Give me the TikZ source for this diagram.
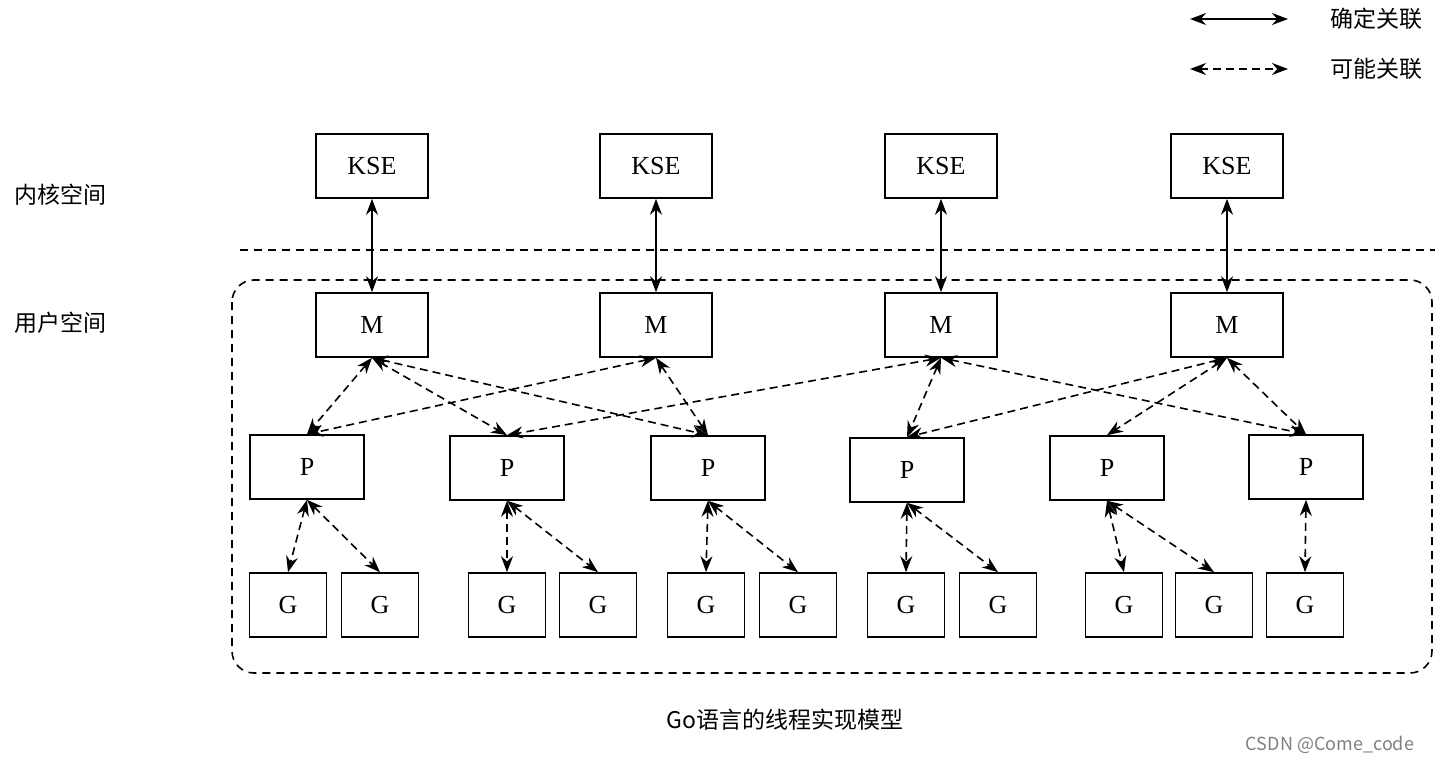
\documentclass[tikz,border=0pt]{standalone}
\usepackage{fontspec}
\setmainfont{Liberation Serif}
\newfontfamily\cjk{Noto Sans CJK SC}
\usetikzlibrary{arrows.meta}
\begin{document}
\begin{tikzpicture}[x=1pt,y=-1pt,line width=1.6pt,
  box/.style={draw,line width=1.6pt,minimum width=112pt,minimum height=64pt,inner sep=0pt,font=\fontsize{26}{26}\selectfont},
  gbox/.style={box,minimum width=77pt},
  sure/.style={{Stealth[length=16pt,width=12pt]}-{Stealth[length=16pt,width=12pt]},line width=1.6pt},
  maybe/.style={sure,dash pattern=on 8pt off 5pt},
  lbl/.style={font=\cjk\fontsize{23}{23}\selectfont}]
\useasboundingbox (0,0) rectangle (1440,762);
\fill[white] (0,0) rectangle (1440,762);
% legend
\coordinate (la1) at (1190,19); \coordinate (la2) at (1288,19);
\coordinate (lb1) at (1190,69); \coordinate (lb2) at (1288,69);
\draw[sure] (la1) -- (la2);
\draw[maybe] (lb1) -- (lb2);
\node[lbl] (lt1) at (1376,19) {确定关联};
\node[lbl] (lt2) at (1376,69) {可能关联};
\node[lbl] (ks) at (60,195) {内核空间};
\node[lbl] (us) at (60,323) {用户空间};
\coordinate (s1) at (240,250); \coordinate (s2) at (1435,250);
\draw[dash pattern=on 8pt off 6pt] (s1) -- (s2);
\draw[dash pattern=on 8pt off 6pt,rounded corners=22pt] (232,280) rectangle (1432,673);
\foreach \i/\x in {1/372,2/656,3/941,4/1227}{
  \node[box] (K\i) at (\x,166) {KSE};
  \node[box] (M\i) at (\x,325) {M};
  \draw[sure] (K\i) -- (M\i);
}
\foreach \i/\x/\y in {1/307/467,2/507/468,3/708/468,4/907/470,5/1107/468,6/1306/467}{
  \node[box,minimum width=114pt] (P\i) at (\x,\y) {P};
}
\foreach \i/\x in {1/288,2/380,3/507,4/598,5/706,6/798,7/906,8/998,9/1124,10/1214,11/1305}{
  \node[gbox] (G\i) at (\x,605) {G};
}
\foreach \m/\p in {1/1,1/2,1/3,2/1,2/3,3/2,3/4,3/6,4/4,4/5,4/6}{
  \draw[maybe] (M\m.south) -- (P\p.north);
}
\foreach \p/\g in {1/1,1/2,2/3,2/4,3/5,3/6,4/7,4/8,5/9,5/10,6/11}{
  \draw[maybe] (P\p.south) -- (G\g.north);
}
\node[lbl] (cap) at (785,720) {Go语言的线程实现模型};
\node[font=\cjk\fontsize{18}{18}\selectfont,text=gray] (wm) at (1330,745) {CSDN @Come\_code};
\end{tikzpicture}
\end{document}
